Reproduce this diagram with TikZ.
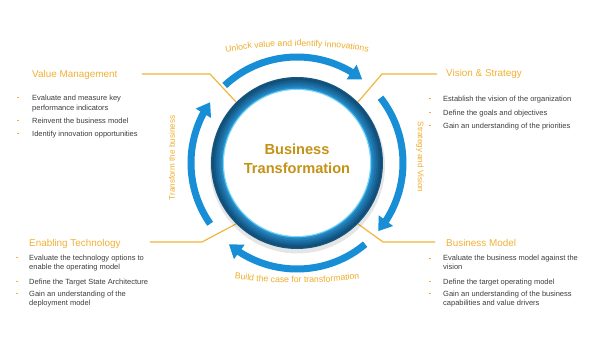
\documentclass[tikz,border=0pt]{standalone}
\usepackage{fontspec}
\setmainfont{Liberation Sans}
\usetikzlibrary{arrows.meta,bending,decorations.text}
\definecolor{ttl}{RGB}{242,176,52}
\definecolor{arclbl}{RGB}{238,172,40}
\definecolor{ctr}{RGB}{196,146,22}
\definecolor{btxt}{RGB}{60,60,60}
\definecolor{arrblue}{RGB}{24,142,214}
\definecolor{conn}{RGB}{240,182,62}
\definecolor{rA}{RGB}{120,214,248}
\definecolor{rB}{RGB}{42,146,204}
\definecolor{rC}{RGB}{32,126,184}
\definecolor{rD}{RGB}{28,112,166}
\definecolor{rE}{RGB}{24,100,150}
\definecolor{rF}{RGB}{20,88,134}
\definecolor{rG}{RGB}{17,78,120}
\definecolor{rH}{RGB}{24,88,128}
\tikzset{
  titletext/.style={font=\fontsize{9.9}{11}\selectfont, text=ttl, inner sep=0, anchor=base west},
  btext/.style={font=\fontsize{7.5}{9}\selectfont, text=btxt, inner sep=0, anchor=base west},
  bmark/.style={fill=ttl},
  connline/.style={draw=conn, line width=1.2pt},
  cyclearrow/.style={draw=arrblue, line width=7pt, -{Triangle[width=17pt,length=13pt]}},
  sidelbl/.style={font=\fontsize{8.1}{9}\selectfont, text=arclbl, inner sep=0}
}
\newcommand\bmk[2]{\fill[bmark] (#1-1.3,#2+2.3) rectangle (#1+1.3,#2+3.4);}
\begin{document}
\begin{tikzpicture}[x=1pt,y=1pt]
\useasboundingbox (-297,-187) rectangle (303,163);
% ring placeholder
\node[circle, minimum size=172pt, inner sep=0] (ring) at (0,0) {};
% connectors
\coordinate (tlE) at (-87,89);  \coordinate (tlF) at (-155,89);
\coordinate (trE) at (85,89);   \coordinate (trF) at (140,89);
\coordinate (brE) at (86,-79);  \coordinate (brF) at (138,-79);
\coordinate (blE) at (-95,-79); \coordinate (blF) at (-147,-79);
\draw[connline] (ring.135) -- (tlE) -- (tlF);
\draw[connline] (ring.45) -- (trE) -- (trF);
\draw[connline] (ring.-45) -- (brE) -- (brF);
\draw[connline] (ring.-135) -- (blE) -- (blF);
% ring
\fill[black, opacity=0.10] (0.5,-3) circle (87.5);
\foreach \r/\c in {86/rH, 84.8/rG, 83.2/rF, 81.4/rE, 79.6/rD, 77.6/rC, 75.6/rB, 74.2/rA} {
  \fill[\c] (0,0) circle (\r);
}
\fill[white] (0,0) circle (73);
\node[font=\bfseries\fontsize{14.6}{18.5}\selectfont, text=ctr, align=center] (bt) at (0,4) {Business\\Transformation};
% cycle arrows
\draw[cyclearrow] (133:106) arc[start angle=133, end angle=52, radius=106];
\draw[cyclearrow] (38:106) arc[start angle=38, end angle=-40, radius=106];
\draw[cyclearrow] (-50:106) arc[start angle=-50, end angle=-130, radius=106];
\draw[cyclearrow] (215:106) arc[start angle=215, end angle=145, radius=106];
% arc labels
\path[decorate, decoration={text along path, text align=center, text color=arclbl,
  text={|\fontsize{8.7}{10}\selectfont|Unlock value and identify innovations}}]
  (0,-303) ++(101:420) arc[start angle=101, end angle=79, radius=420];
\path[decorate, decoration={text along path, text align=center, text color=arclbl,
  text={|\fontsize{8.7}{10}\selectfont|Build the case for transformation}}]
  (0,310) ++(-100:430) arc[start angle=-100, end angle=-80, radius=430];
\node[sidelbl, rotate=-90] (sv) at (123,6) {Strategy and Vision};
\node[sidelbl, rotate=90] (tb) at (-125,5) {Transform the business};
% Value Management
\node[titletext] (vmT) at (-265,85.5) {Value Management};
\node[btext] (vm1) at (-265,62.5) {Evaluate and measure key};
\node[btext] (vm1b) at (-265,52.5) {performance indicators};
\node[btext] (vm2) at (-265,39.5) {Reinvent the business model};
\node[btext] (vm3) at (-265,26.5) {Identify innovation opportunities};
\bmk{-279}{62.5}\bmk{-279}{39.5}\bmk{-279}{26.5}
% Vision & Strategy
\node[titletext] (vsT) at (149,86) {Vision \& Strategy};
\node[btext] (vs1) at (146,61.5) {Establish the vision of the organization};
\node[btext] (vs2) at (146,47.5) {Define the goals and objectives};
\node[btext] (vs3) at (146,34.5) {Gain an understanding of the priorities};
\bmk{133}{61.5}\bmk{133}{47.5}\bmk{133}{34.5}
% Enabling Technology
\node[titletext] (etT) at (-268,-83.5) {Enabling Technology};
\node[btext] (et1) at (-268,-97.5) {Evaluate the technology options to};
\node[btext] (et1b) at (-268,-106.5) {enable the operating model};
\node[btext] (et2) at (-268,-121.5) {Define the Target State Architecture};
\node[btext] (et3) at (-268,-133.5) {Gain an understanding of the};
\node[btext] (et3b) at (-268,-142.5) {deployment model};
\bmk{-280}{-97.5}\bmk{-280}{-121.5}\bmk{-280}{-133.5}
% Business Model
\node[titletext] (bmT) at (149,-83.5) {Business Model};
\node[btext] (bm1) at (146,-98) {Evaluate the business model against the};
\node[btext] (bm1b) at (146,-107) {vision};
\node[btext] (bm2) at (146,-121.5) {Define the target operating model};
\node[btext] (bm3) at (146,-133.5) {Gain an understanding of the business};
\node[btext] (bm3b) at (146,-142.5) {capabilities and value drivers};
\bmk{133}{-98}\bmk{133}{-121.5}\bmk{133}{-133.5}
\end{tikzpicture}
\end{document}
